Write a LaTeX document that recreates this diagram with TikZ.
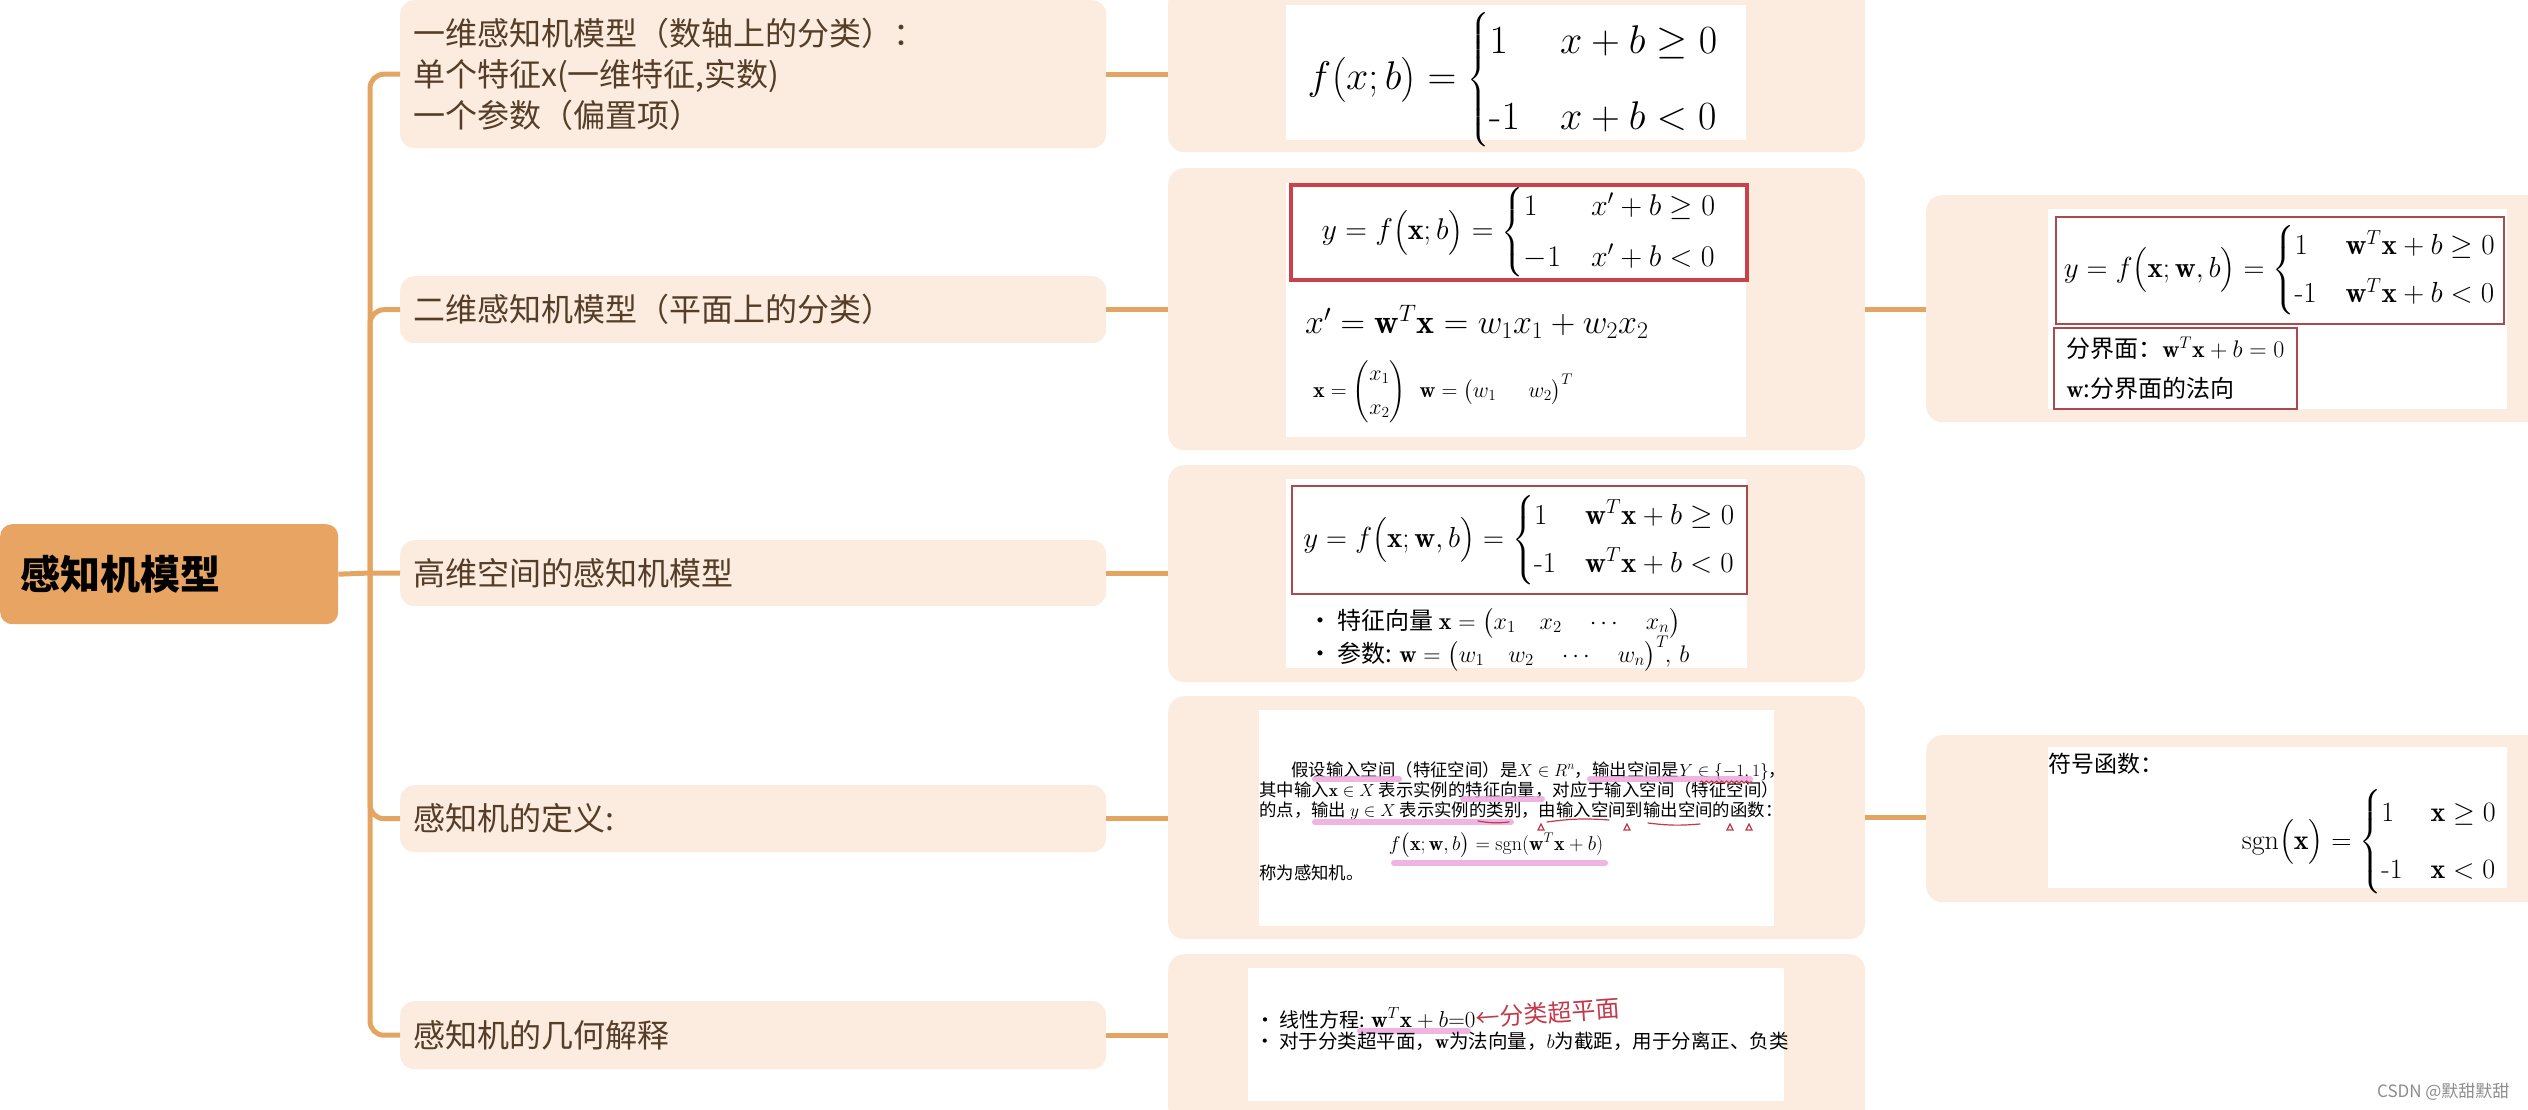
\RequirePackage{fix-cm}
\documentclass[tikz,border=0pt]{standalone}
\usepackage{amsmath}
\usepackage{fontspec}
\newfontfamily\cjk{Noto Sans CJK SC}
\usetikzlibrary{positioning,calc,decorations.pathmorphing}

\definecolor{rootfill}{HTML}{E8A462}
\definecolor{leaf}{HTML}{FBECDF}
\definecolor{branch}{HTML}{E5A562}
\definecolor{ink}{HTML}{553D28}
\definecolor{frame}{HTML}{C8414B}
\definecolor{thinframe}{HTML}{A94A4F}
\definecolor{marker}{HTML}{EBA2DA}
\definecolor{pen}{HTML}{C23A4A}

\newcommand\fsz[2]{\cjk\fontsize{#1}{#2}\selectfont}
\newcommand\perceq[1]{$y=f\bigl(\mathbf{x};\mathbf{w},b\bigr)=\begin{cases}1 & \mathbf{w}^T\mathbf{x}+b\geq 0\\[#1] \textrm{-}1 & \mathbf{w}^T\mathbf{x}+b<0\end{cases}$}

\tikzset{
  root/.style={fill=rootfill, rounded corners=12pt, anchor=north west, inner xsep=20pt, inner ysep=0pt,
    minimum width=338pt, minimum height=100pt, text width=298pt, align=left, text=black,
    font=\cjk\bfseries\fontsize{40}{48}\selectfont},
  topic/.style={fill=leaf, rounded corners=14pt, anchor=north west, inner xsep=13pt, inner ysep=0pt,
    text width=680pt, align=left, text=ink, font=\fsz{32}{41}},
  card/.style={fill=leaf, rounded corners=16pt, anchor=north west, inner sep=0pt},
  sheet/.style={fill=white, anchor=north west, inner sep=0pt},
  eq/.style={inner sep=0pt, text=black},
  redbox/.style={draw=frame, line width=4pt, anchor=north west, inner sep=0pt, text=black},
  thinbox/.style={draw=thinframe, line width=1.6pt, anchor=north west, inner sep=0pt, text=black},
  link/.style={draw=branch, line width=5pt},
  hl/.style={draw=marker, line width=6pt, line cap=round, opacity=.8},
  pen/.style={draw=pen, line width=1.2pt, line cap=round}
}

\begin{document}
\begin{tikzpicture}[x=1pt,y=-1pt]
\useasboundingbox (0,0) rectangle (2528,1110);
\clip (0,0) rectangle (2528,1110);

% root and the five topics
\node[root] (root) at (0,524) {感知机模型};
\node[topic, minimum height=148pt] (t1) at (400,0)
  {一维感知机模型（数轴上的分类）：\\单个特征x(一维特征,实数)\\一个参数（偏置项）};
\node[topic, minimum height=67pt] (t2) at (400,276) {二维感知机模型（平面上的分类）};
\node[topic, minimum height=66pt] (t3) at (400,540) {高维空间的感知机模型};
\node[topic, minimum height=67pt] (t4) at (400,785) {感知机的定义:};
\node[topic, minimum height=68pt] (t5) at (400,1001) {感知机的几何解释};

\coordinate (hub) at (370,573);
\draw[link] (root.east) -- (hub);
\draw[link] (hub) -- (t3.west);
\foreach \t in {t1,t2,t4,t5}
  \draw[link, rounded corners=14pt] (hub) |- (\t.west);

% second level cards
\node[card, minimum width=697pt, minimum height=166pt] (c1) at (1168,-14) {};
\node[card, minimum width=697pt, minimum height=282pt] (c2) at (1168,168) {};
\node[card, minimum width=697pt, minimum height=217pt] (c3) at (1168,465) {};
\node[card, minimum width=697pt, minimum height=243pt] (c4) at (1168,696) {};
\node[card, minimum width=697pt, minimum height=170pt] (c5) at (1168,954) {};
\foreach \i in {1,...,5}
  \draw[link] (t\i.east) -- (t\i.east -| c\i.west);

% third level cards
\node[card, minimum width=640pt, minimum height=227pt] (d1) at (1926,195) {};
\node[card, minimum width=640pt, minimum height=167pt] (d2) at (1926,735) {};
\draw[link] (c2.east) -- (c2.east -| d1.west);
\draw[link] (c4.east) -- (c4.east -| d2.west);

% white sheets
\node[sheet, minimum width=460pt, minimum height=135pt] (s1) at (1286,5) {};
\node[sheet, minimum width=460pt, minimum height=254pt] (s2) at (1286,183) {};
\node[sheet, minimum width=461pt, minimum height=189pt] (s3) at (1286,479) {};
\node[sheet, minimum width=515pt, minimum height=216pt] (s4) at (1259,710) {};
\node[sheet, minimum width=536pt, minimum height=133pt] (s5) at (1248,968) {};
\node[sheet, minimum width=459pt, minimum height=200pt] (s6) at (2048,209) {};
\node[sheet, minimum width=459pt, minimum height=141pt] (s7) at (2048,747) {};

% one dimension
\node[eq, font=\fsz{40}{48}] (f1) at (1513,80)
  {$f\bigl(x;b\bigr)=\begin{cases}1 & x+b\geq 0\\[18pt] \textrm{-}1 & x+b<0\end{cases}$};

% two dimensions
\node[redbox, minimum width=456pt, minimum height=95pt, font=\fsz{30}{36}] (r1) at (1289,183)
  {$y=f\bigl(\mathbf{x};b\bigr)=\begin{cases}1 & x'+b\geq 0\\[8pt] -1 & x'+b<0\end{cases}$};
\node[eq, anchor=west, font=\fsz{34}{40}] (f3) at (1305,322) {$x'=\mathbf{w}^T\mathbf{x}=w_1x_1+w_2x_2$};
\node[eq, anchor=west, font=\fsz{22}{26}] (f4) at (1313,392)
  {$\mathbf{x}=\begin{pmatrix}x_1\\[8pt] x_2\end{pmatrix}\ \ \mathbf{w}=\begin{pmatrix}w_1 & \quad w_2\end{pmatrix}^T$};

% higher dimensions
\node[thinbox, minimum width=455pt, minimum height=108pt, font=\fsz{29}{35}] (r2) at (1291,485) {\perceq{6pt}};
\node[eq, anchor=base west, font=\fsz{24}{28}] (b1) at (1308,629)
  {\textbullet\ 特征向量 $\mathbf{x}=\bigl(x_1\quad x_2\quad\cdots\quad x_n\bigr)$};
\node[eq, anchor=base west, font=\fsz{24}{28}] (b2) at (1308,662)
  {\textbullet\ 参数: $\mathbf{w}=\bigl(w_1\quad w_2\quad\cdots\quad w_n\bigr)^T\!,\,b$};

% definition
\node[eq, anchor=base west, font=\fsz{17.4}{20}] (p1) at (1291,776)
  {假设输入空间（特征空间）是$X\in R^n$，输出空间是$Y\in\{-1,1\}$，};
\node[eq, anchor=base west, font=\fsz{17.4}{20}] (p2) at (1259,796)
  {其中输入$\mathbf{x}\in X$ 表示实例的特征向量，对应于输入空间（特征空间）};
\node[eq, anchor=base west, font=\fsz{17.4}{20}] (p3) at (1259,816)
  {的点，输出 $y\in X$ 表示实例的类别，由输入空间到输出空间的函数：};
\node[eq, font=\fsz{20}{24}] (p4) at (1496,845)
  {$f\bigl(\mathbf{x};\mathbf{w},b\bigr)=\mathrm{sgn}(\mathbf{w}^T\mathbf{x}+b)$};
\node[eq, anchor=base west, font=\fsz{17.4}{20}] (p5) at (1259,879) {称为感知机。};
\draw[hl] (1315,779) -- (1399,779);
\draw[hl] (1590,779) -- (1750,779);
\draw[hl] (1463,799) -- (1542,799);
\draw[hl] (1315,822) -- (1511,822);
\draw[hl] (1394,863) -- (1605,863);
\draw[pen, decorate, decoration={snake, amplitude=1pt, segment length=5pt}] (1700,782) -- (1752,782);
\draw[pen] (1478,821) to[bend right=8] (1509,822);
\draw[pen] (1547,822) to[bend left=6] (1609,820);
\draw[pen] (1648,823) to[bend right=6] (1700,824);
\foreach \p in {1538,1624,1727,1746}
  \draw[pen] (\p,830) -- ++(3,-6) -- ++(3,6) -- cycle;

% geometry
\node[eq, anchor=base west, font=\fsz{20}{24}] (g1) at (1255,1027)
  {\textbullet\ 线性方程: {\fontsize{23}{27}\selectfont$\mathbf{w}^T\mathbf{x}+b{=}0$}};
\draw[hl] (1360,1031) -- (1468,1031);
\node[eq, anchor=west, text=pen, rotate=4, font=\fsz{24}{28}] (g0) at (g1.east) {←分类超平面};
\node[eq, anchor=base west, font=\fsz{19.5}{23}] (g2) at (1255,1048)
  {\textbullet\ 对于分类超平面，$\mathbf{w}$为法向量，$b$为截距，用于分离正、负类};

% decision surface
\node[thinbox, minimum width=448pt, minimum height=107pt, font=\fsz{29}{35}] (r3) at (2055,216) {\perceq{6pt}};
\node[thinbox, minimum width=243pt, minimum height=81pt, inner xsep=5pt, align=left, font=\fsz{24}{40}] (r4) at (2053,327)
  {分界面：$\mathbf{w}^T\mathbf{x}+b=0$\\$\mathbf{w}$:分界面的法向};

% sign function
\node[eq, anchor=base west, font=\fsz{23}{27}] (sg0) at (2048,772) {符号函数：};
\node[eq, anchor=east, font=\fsz{28}{34}] (sg1) at (2497,842)
  {$\operatorname{sgn}\bigl(\mathbf{x}\bigr)=\begin{cases}1 & \mathbf{x}\geq 0\\[16pt] \textrm{-}1 & \mathbf{x}<0\end{cases}$};

\node[anchor=base east, text=black!45, font=\fsz{17}{20}] (mark) at (2513,1097) {CSDN @默甜默甜};
\end{tikzpicture}
\end{document}
